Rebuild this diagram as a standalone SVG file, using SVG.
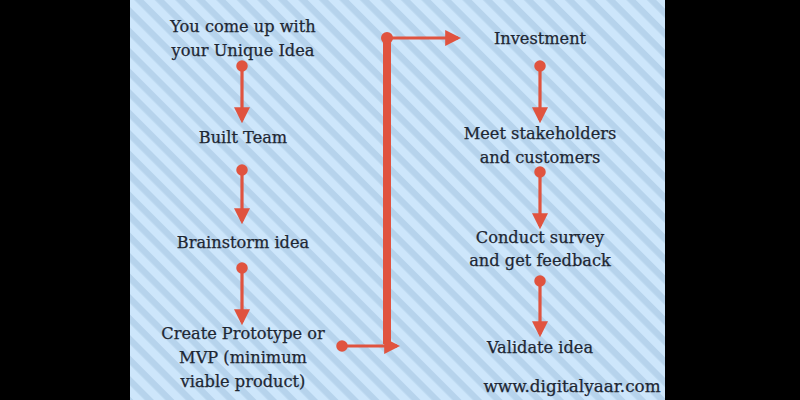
<svg xmlns="http://www.w3.org/2000/svg" width="800" height="400" viewBox="0 0 800 400">
<defs>
<pattern id="stripes" patternUnits="userSpaceOnUse" width="14.5" height="14.5" patternTransform="rotate(45)">
<rect width="14.5" height="14.5" fill="#cde6fb"/>
<rect width="14.5" height="6.4" fill="#b6d3ec"/>
</pattern>
<marker id="ah" viewBox="0 0 10 10" refX="8" refY="5" markerWidth="5" markerHeight="5" markerUnits="strokeWidth" orient="auto">
<path d="M0,0 L10,5 L0,10 Z" fill="#e0533f"/>
</marker>
<marker id="dot" viewBox="0 0 10 10" refX="5" refY="5" markerWidth="3.6" markerHeight="3.6" markerUnits="strokeWidth" orient="auto">
<circle cx="5" cy="5" r="5" fill="#e0533f"/>
</marker>
</defs>
<style>
text{font-family:"DejaVu Serif","Liberation Serif",serif;font-size:16.2px;fill:#1e2733;stroke:#1e2733;stroke-width:0.25;text-anchor:middle}
.c{stroke:#e0533f;stroke-width:3.2;fill:none;marker-start:url(#dot);marker-end:url(#ah)}
</style>
<rect width="800" height="400" fill="#000"/>
<rect x="130" y="0" width="535" height="400" fill="url(#stripes)"/>
<g id="connectors">
<path class="c" d="M242,66 V120"/>
<path class="c" d="M242,170 V221"/>
<path class="c" d="M242,268 V322"/>
<path class="c" d="M540,66 V120"/>
<path class="c" d="M540,172 V226"/>
<path class="c" d="M540,281 V334"/>
<path d="M387,40 V344" stroke="#e0533f" stroke-width="8" fill="none"/>
<circle cx="387" cy="38" r="6" fill="#e0533f"/>
<path class="c" d="M387,38 H458" style="marker-start:none"/>
<path class="c" d="M342,346 H397"/>
</g>
<g id="n1"><text x="243" y="32">You come up with</text><text x="243" y="56">your Unique Idea</text></g>
<g id="n2"><text x="243" y="143">Built Team</text></g>
<g id="n3"><text x="243" y="248">Brainstorm idea</text></g>
<g id="n4"><text x="243" y="339">Create Prototype or</text><text x="243" y="363">MVP (minimum</text><text x="243" y="387">viable product)</text></g>
<g id="n5"><text x="540" y="44">Investment</text></g>
<g id="n6"><text x="540" y="139">Meet stakeholders</text><text x="540" y="163">and customers</text></g>
<g id="n7"><text x="540" y="243">Conduct survey</text><text x="540" y="266">and get feedback</text></g>
<g id="n8"><text x="540" y="353">Validate idea</text></g>
<g id="n9"><text x="572" y="392" style="font-size:16.8px">www.digitalyaar.com</text></g>
</svg>
